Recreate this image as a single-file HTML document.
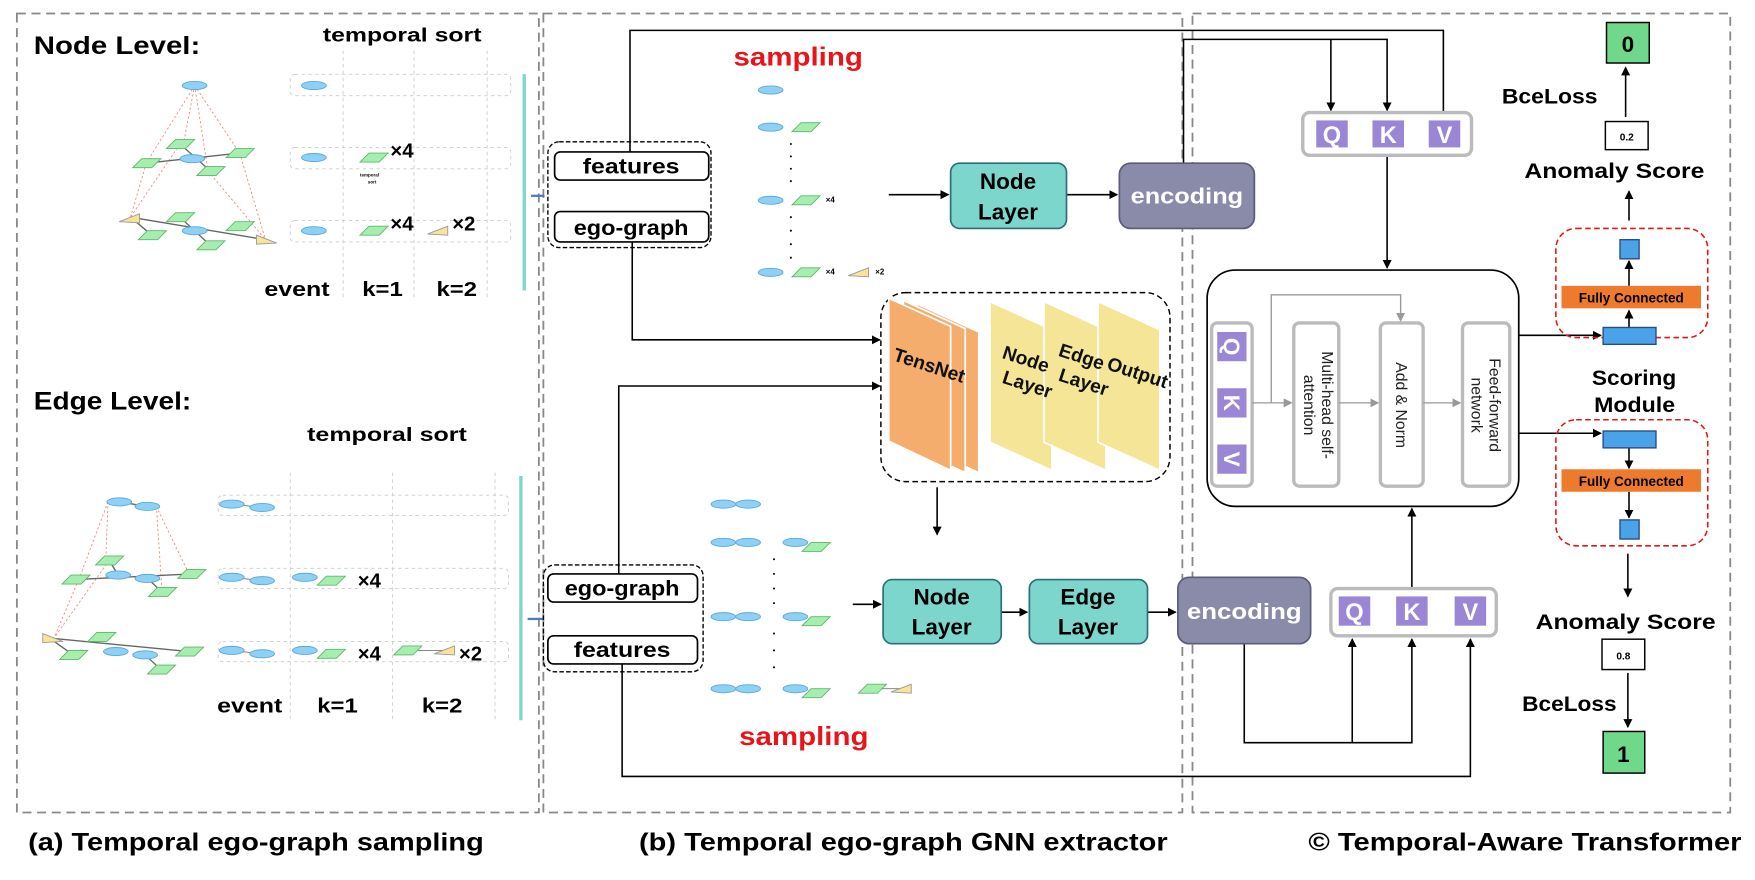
<!DOCTYPE html>
<html><head><meta charset="utf-8"><style>
html,body{margin:0;padding:0;background:#fff;}
svg{display:block;}
text{font-family:"Liberation Sans",sans-serif;font-weight:bold;}
</style></head><body>
<svg width="1755" height="880" viewBox="0 0 1560 782" preserveAspectRatio="none" xmlns="http://www.w3.org/2000/svg">
<defs>
<marker id="ar" markerWidth="8" markerHeight="8" refX="7" refY="4" orient="auto" markerUnits="userSpaceOnUse"><path d="M0,0 L8,4 L0,8 z" fill="#000"/></marker>
<marker id="arg" markerWidth="8" markerHeight="8" refX="7" refY="4" orient="auto" markerUnits="userSpaceOnUse"><path d="M0,0 L8,4 L0,8 z" fill="#999"/></marker>
<symbol id="el" overflow="visible"><ellipse cx="0" cy="0" rx="11" ry="3.6" fill="#8fd0f5" stroke="#5aa9dd" stroke-width="0.8"/></symbol>
<symbol id="dm" overflow="visible"><polygon points="-12,4 -4,-4 13,-4 5,4" fill="#a6eeb0" stroke="#5cb86a" stroke-width="0.8"/></symbol>
<symbol id="tr" overflow="visible"><polygon points="-10,3 8,-4 8,4" fill="#f7e39a" stroke="#999" stroke-width="0.8"/></symbol>
</defs>

<g fill="none" stroke="#888" stroke-width="1.6" stroke-dasharray="8,5">
<rect x="15" y="12" width="464" height="710"/>
<rect x="483" y="12" width="568" height="710"/>
<rect x="1060" y="12" width="478" height="710"/>
</g>

<text x="25" y="756" font-size="22" textLength="405" lengthAdjust="spacingAndGlyphs">(a) Temporal ego-graph sampling</text>
<text x="568" y="756" font-size="22" textLength="470" lengthAdjust="spacingAndGlyphs">(b) Temporal ego-graph GNN extractor</text>
<text x="1163" y="756" font-size="22" textLength="385" lengthAdjust="spacingAndGlyphs">© Temporal-Aware Transformer</text>

<!-- Panel a: Node level -->
<text x="30" y="48" font-size="22" textLength="148" lengthAdjust="spacingAndGlyphs">Node Level:</text>
<text x="287" y="37" font-size="17" textLength="141" lengthAdjust="spacingAndGlyphs">temporal sort</text>
<g fill="none" stroke="#ccc" stroke-width="0.8" stroke-dasharray="3,3">
<rect x="258" y="66" width="196" height="19" rx="4"/>
<rect x="258" y="131" width="196" height="19" rx="4"/>
<rect x="258" y="196" width="196" height="19" rx="4"/>
<line x1="305" y1="45" x2="305" y2="265"/>
<line x1="368" y1="45" x2="368" y2="265"/>
<line x1="433" y1="45" x2="433" y2="265"/>
</g>
<line x1="466" y1="66" x2="466" y2="258" stroke="#7fd6cf" stroke-width="3"/>
<line x1="472" y1="174" x2="484" y2="174" stroke="#4a7bc8" stroke-width="2"/>
<text x="235" y="263" font-size="18" textLength="58" lengthAdjust="spacingAndGlyphs">event</text>
<text x="322" y="263" font-size="18" textLength="36" lengthAdjust="spacingAndGlyphs">k=1</text>
<text x="388" y="263" font-size="18" textLength="36" lengthAdjust="spacingAndGlyphs">k=2</text>
<use href="#el" x="279" y="76"/><use href="#el" x="279" y="140"/><use href="#el" x="279" y="205"/>
<use href="#dm" x="332" y="140"/><use href="#dm" x="332" y="205"/><use href="#tr" x="390" y="205"/>
<text x="347" y="140" font-size="18">×4</text>
<text x="347" y="205" font-size="18">×4</text>
<text x="402" y="205" font-size="18">×2</text>
<text x="320" y="157" font-size="4">temporal</text>
<text x="327" y="163" font-size="4">sort</text>
<g stroke="#f08a80" stroke-width="0.8" stroke-dasharray="2,2" fill="none">
<line x1="173" y1="76" x2="130" y2="145"/><line x1="173" y1="76" x2="163" y2="128"/>
<line x1="173" y1="76" x2="185" y2="152"/><line x1="173" y1="76" x2="213" y2="136"/>
<line x1="130" y1="145" x2="116" y2="193"/><line x1="160" y1="128" x2="116" y2="193"/>
<line x1="185" y1="152" x2="236" y2="213"/><line x1="213" y1="136" x2="236" y2="213"/>
</g>
<g stroke="#666" stroke-width="1.2">
<line x1="130" y1="145" x2="213" y2="136"/><line x1="160" y1="128" x2="187" y2="152"/>
<line x1="116" y1="193" x2="236" y2="213"/><line x1="116" y1="193" x2="135" y2="209"/>
<line x1="160" y1="193" x2="187" y2="218"/>
</g>
<use href="#el" x="173" y="76"/>
<use href="#dm" x="160" y="128"/><use href="#dm" x="130" y="145"/><use href="#el" x="171" y="141"/><use href="#dm" x="187" y="152"/><use href="#dm" x="213" y="136"/>
<use href="#tr" x="116" y="194"/><use href="#dm" x="160" y="193"/><use href="#dm" x="135" y="209"/><use href="#el" x="173" y="205"/><use href="#dm" x="213" y="201"/><use href="#dm" x="187" y="218"/>
<g transform="translate(236,213) scale(-1,1)"><use href="#tr"/></g>

<!-- Panel a: Edge level -->
<text x="30" y="364" font-size="22" textLength="140" lengthAdjust="spacingAndGlyphs">Edge Level:</text>
<text x="273" y="392" font-size="17" textLength="142" lengthAdjust="spacingAndGlyphs">temporal sort</text>
<g fill="none" stroke="#ccc" stroke-width="0.8" stroke-dasharray="3,3">
<rect x="194" y="440" width="258" height="18" rx="4"/>
<rect x="194" y="505" width="258" height="18" rx="4"/>
<rect x="194" y="570" width="258" height="18" rx="4"/>
<line x1="258" y1="420" x2="258" y2="640"/>
<line x1="349" y1="420" x2="349" y2="640"/>
<line x1="440" y1="420" x2="440" y2="640"/>
</g>
<line x1="463" y1="423" x2="463" y2="640" stroke="#7fd6cf" stroke-width="3"/>
<line x1="469" y1="550" x2="483" y2="550" stroke="#4a7bc8" stroke-width="2"/>
<text x="193" y="633" font-size="18" textLength="58" lengthAdjust="spacingAndGlyphs">event</text>
<text x="282" y="633" font-size="18" textLength="36" lengthAdjust="spacingAndGlyphs">k=1</text>
<text x="375" y="633" font-size="18" textLength="36" lengthAdjust="spacingAndGlyphs">k=2</text>
<g stroke="#777" stroke-width="0.8"><line x1="206" y1="448" x2="233" y2="451"/><line x1="206" y1="513" x2="233" y2="516"/><line x1="206" y1="578" x2="233" y2="581"/><line x1="362" y1="578" x2="394" y2="578"/></g>
<use href="#el" x="206" y="448"/><use href="#el" x="233" y="451"/>
<use href="#el" x="206" y="513"/><use href="#el" x="233" y="516"/>
<use href="#el" x="206" y="578"/><use href="#el" x="233" y="581"/>
<use href="#el" x="271" y="513"/><use href="#dm" x="294" y="516"/>
<use href="#el" x="271" y="578"/><use href="#dm" x="294" y="581"/>
<use href="#dm" x="362" y="578"/><use href="#tr" x="396" y="578"/>
<text x="318" y="522" font-size="18">×4</text>
<text x="318" y="587" font-size="18">×4</text>
<text x="408" y="587" font-size="18">×2</text>
<g stroke="#f08a80" stroke-width="0.8" stroke-dasharray="2,2" fill="none">
<line x1="96" y1="446" x2="70" y2="515"/><line x1="96" y1="446" x2="94" y2="498"/>
<line x1="139" y1="450" x2="144" y2="526"/><line x1="139" y1="450" x2="168" y2="510"/>
<line x1="70" y1="515" x2="48" y2="567"/><line x1="97" y1="498" x2="48" y2="567"/>
</g>
<g stroke="#666" stroke-width="1.2">
<line x1="106" y1="446" x2="131" y2="450"/><line x1="67" y1="515" x2="170" y2="510"/><line x1="131" y1="514" x2="144" y2="526"/>
<line x1="44" y1="567" x2="168" y2="579"/><line x1="44" y1="567" x2="65" y2="582"/><line x1="129" y1="582" x2="143" y2="595"/><line x1="97" y1="498" x2="105" y2="511"/>
</g>
<use href="#el" x="106" y="446"/><use href="#el" x="131" y="450"/>
<use href="#dm" x="97" y="498"/><use href="#dm" x="67" y="515"/><use href="#el" x="105" y="511"/><use href="#el" x="131" y="514"/><use href="#dm" x="144" y="526"/><use href="#dm" x="170" y="510"/>
<g transform="translate(46,567) scale(-1,1)"><use href="#tr"/></g>
<use href="#dm" x="90" y="566"/><use href="#dm" x="65" y="582"/><use href="#el" x="103" y="579"/><use href="#el" x="129" y="582"/><use href="#dm" x="143" y="595"/><use href="#dm" x="168" y="579"/>

<!-- Panel b -->
<g fill="none" stroke="#000" stroke-width="1.4">
<polyline points="560,135 560,27 1283,27 1283,106" marker-end="url(#ar)"/>
<polyline points="1052,145 1052,35 1233,35 1233,98" marker-end="url(#ar)"/>
<line x1="1183" y1="35" x2="1183" y2="98" marker-end="url(#ar)"/>
<polyline points="562,215 562,302 782,302" marker-end="url(#ar)"/>
<polyline points="550,510 550,343 782,343" marker-end="url(#ar)"/>
<polyline points="553,590 553,690 1307,690 1307,568" marker-end="url(#ar)"/>
<polyline points="1106,572 1106,660 1255,660 1255,568" marker-end="url(#ar)"/>
<line x1="1202" y1="660" x2="1202" y2="568" marker-end="url(#ar)"/>
<line x1="790" y1="173" x2="843" y2="173" marker-end="url(#ar)"/>
<line x1="948" y1="173" x2="993" y2="173" marker-end="url(#ar)"/>
<line x1="833" y1="433" x2="833" y2="475" marker-end="url(#ar)"/>
<line x1="758" y1="537" x2="783" y2="537" marker-end="url(#ar)"/>
<line x1="890" y1="544" x2="913" y2="544" marker-end="url(#ar)"/>
<line x1="1020" y1="544" x2="1045" y2="544" marker-end="url(#ar)"/>
<line x1="1233" y1="138" x2="1233" y2="238" marker-end="url(#ar)"/>
<line x1="1255" y1="523" x2="1255" y2="452" marker-end="url(#ar)"/>
</g>
<rect x="487" y="126" width="145" height="94" rx="10" fill="none" stroke="#000" stroke-width="1.2" stroke-dasharray="4,2"/>
<rect x="493" y="135" width="137" height="25" rx="5" fill="#fff" stroke="#000" stroke-width="1.5"/>
<rect x="493" y="188" width="137" height="27" rx="5" fill="#fff" stroke="#000" stroke-width="1.5"/>
<text x="518" y="154" font-size="19" textLength="86" lengthAdjust="spacingAndGlyphs">features</text>
<text x="510" y="209" font-size="19" textLength="102" lengthAdjust="spacingAndGlyphs">ego-graph</text>
<rect x="483" y="502" width="142" height="95" rx="10" fill="none" stroke="#000" stroke-width="1.2" stroke-dasharray="4,2"/>
<rect x="487" y="510" width="133" height="25" rx="5" fill="#fff" stroke="#000" stroke-width="1.5"/>
<rect x="487" y="565" width="133" height="25" rx="5" fill="#fff" stroke="#000" stroke-width="1.5"/>
<text x="502" y="529" font-size="19" textLength="102" lengthAdjust="spacingAndGlyphs">ego-graph</text>
<text x="510" y="584" font-size="19" textLength="86" lengthAdjust="spacingAndGlyphs">features</text>

<text x="652" y="58" font-size="23" fill="#e8141a" textLength="115" lengthAdjust="spacingAndGlyphs">sampling</text>
<text x="657" y="662" font-size="23" fill="#e8141a" textLength="115" lengthAdjust="spacingAndGlyphs">sampling</text>
<use href="#el" x="685" y="80"/><use href="#el" x="685" y="113"/><use href="#el" x="685" y="178"/><use href="#el" x="685" y="242"/>
<use href="#dm" x="716" y="113"/><use href="#dm" x="716" y="178"/><use href="#dm" x="716" y="242"/><use href="#tr" x="764" y="242"/>
<text x="734" y="180" font-size="7">×4</text><text x="734" y="244" font-size="7">×4</text><text x="778" y="244" font-size="7">×2</text>
<g fill="#000"><circle cx="703" cy="128" r="0.9"/><circle cx="703" cy="139" r="0.9"/><circle cx="703" cy="150" r="0.9"/><circle cx="703" cy="161" r="0.9"/><circle cx="703" cy="193" r="0.9"/><circle cx="703" cy="205" r="0.9"/><circle cx="703" cy="217" r="0.9"/><circle cx="703" cy="229" r="0.9"/></g>
<g stroke="#777" stroke-width="0.8"><line x1="643" y1="448" x2="665" y2="448"/><line x1="643" y1="482" x2="665" y2="482"/><line x1="643" y1="548" x2="665" y2="548"/><line x1="643" y1="612" x2="665" y2="612"/><line x1="772" y1="612" x2="800" y2="612"/></g>
<use href="#el" x="643" y="448"/><use href="#el" x="665" y="448"/>
<use href="#el" x="643" y="482"/><use href="#el" x="665" y="482"/><use href="#el" x="707" y="482"/><use href="#dm" x="725" y="486"/>
<use href="#el" x="643" y="548"/><use href="#el" x="665" y="548"/><use href="#el" x="707" y="548"/><use href="#dm" x="725" y="552"/>
<use href="#el" x="643" y="612"/><use href="#el" x="665" y="612"/><use href="#el" x="707" y="612"/><use href="#dm" x="725" y="616"/>
<use href="#dm" x="775" y="612"/><use href="#tr" x="802" y="612"/>
<g fill="#000"><circle cx="688" cy="497" r="0.9"/><circle cx="688" cy="510" r="0.9"/><circle cx="688" cy="523" r="0.9"/><circle cx="688" cy="536" r="0.9"/><circle cx="688" cy="563" r="0.9"/><circle cx="688" cy="578" r="0.9"/><circle cx="688" cy="593" r="0.9"/></g>

<g stroke="#2c6e7a" stroke-width="1.5" fill="#7dd6cc">
<rect x="845" y="145" width="103" height="58" rx="8"/>
<rect x="785" y="515" width="105" height="57" rx="8"/>
<rect x="915" y="515" width="105" height="57" rx="8"/>
</g>
<g font-size="20" text-anchor="middle">
<text x="896" y="168">Node</text><text x="896" y="195">Layer</text>
<text x="837" y="537">Node</text><text x="837" y="564">Layer</text>
<text x="967" y="537">Edge</text><text x="967" y="564">Layer</text>
</g>
<rect x="995" y="145" width="120" height="58" rx="10" fill="#8a8ba8" stroke="#5a5c78" stroke-width="1.5"/>
<rect x="1047" y="513" width="118" height="59" rx="10" fill="#8a8ba8" stroke="#5a5c78" stroke-width="1.5"/>
<text x="1005" y="181" font-size="20" fill="#fff" textLength="100" lengthAdjust="spacingAndGlyphs">encoding</text>
<text x="1055" y="550" font-size="20" fill="#fff" textLength="102" lengthAdjust="spacingAndGlyphs">encoding</text>

<rect x="783" y="260" width="257" height="168" rx="22" fill="none" stroke="#000" stroke-width="1.3" stroke-dasharray="5,3"/>
<g stroke="#fff" stroke-width="1.5">
<polygon points="815,270 870,295 870,420 815,395" fill="#f5ad6e"/>
<polygon points="803,267 858,292 858,420 803,395" fill="#f5ad6e"/>
<polygon points="790,265 845,290 845,418 790,392" fill="#f5ad6e"/>
<polygon points="880,268 935,293 935,418 880,393" fill="#f5e697"/>
<polygon points="928,268 983,293 983,418 928,393" fill="#f5e697"/>
<polygon points="976,268 1031,293 1031,418 976,393" fill="#f5e697"/>
</g>
<g font-size="17" fill="#111">
<text x="793" y="320" transform="rotate(18 793 320)">TensNet</text>
<text x="890" y="318" transform="rotate(18 890 318)">Node</text>
<text x="890" y="340" transform="rotate(18 890 340)">Layer</text>
<text x="940" y="316" transform="rotate(18 940 316)">Edge</text>
<text x="940" y="338" transform="rotate(18 940 338)">Layer</text>
<text x="983" y="328" transform="rotate(18 983 328)">Output</text>
</g>

<!-- Panel c -->
<rect x="1158" y="100" width="150" height="38" rx="6" fill="#fff" stroke="#bbb" stroke-width="3"/>
<rect x="1183" y="523" width="147" height="42" rx="6" fill="#fff" stroke="#bbb" stroke-width="3"/>
<g fill="#9b86d6">
<rect x="1170" y="107" width="28" height="24"/><rect x="1220" y="107" width="28" height="24"/><rect x="1270" y="107" width="28" height="24"/>
<rect x="1190" y="530" width="28" height="26"/><rect x="1241" y="530" width="28" height="26"/><rect x="1293" y="530" width="28" height="26"/>
</g>
<g fill="#fff" font-size="21" text-anchor="middle">
<text x="1184" y="127">Q</text><text x="1234" y="127">K</text><text x="1284" y="127">V</text>
<text x="1204" y="551">Q</text><text x="1255" y="551">K</text><text x="1307" y="551">V</text>
</g>
<rect x="1073" y="240" width="277" height="210" rx="25" fill="#fff" stroke="#000" stroke-width="1.5"/>
<g fill="#fff" stroke="#bbb" stroke-width="3">
<rect x="1077" y="287" width="36" height="145" rx="5"/>
<rect x="1150" y="287" width="40" height="145" rx="5"/>
<rect x="1227" y="287" width="38" height="145" rx="5"/>
<rect x="1300" y="287" width="42" height="145" rx="5"/>
</g>
<g fill="#9b86d6"><rect x="1082" y="295" width="26" height="26"/><rect x="1082" y="345" width="26" height="26"/><rect x="1082" y="395" width="26" height="26"/></g>
<g fill="#fff" font-size="20" text-anchor="middle">
<text transform="translate(1088,308) rotate(90)">Q</text>
<text transform="translate(1088,358) rotate(90)">K</text>
<text transform="translate(1088,408) rotate(90)">V</text>
</g>
<g stroke="#999" stroke-width="1.2" fill="none">
<line x1="1113" y1="358" x2="1148" y2="358" marker-end="url(#arg)"/>
<line x1="1190" y1="358" x2="1225" y2="358" marker-end="url(#arg)"/>
<line x1="1265" y1="358" x2="1298" y2="358" marker-end="url(#arg)"/>
<polyline points="1130,358 1130,262 1245,262 1245,285" marker-end="url(#arg)"/>
</g>
<g font-size="14" fill="#222" text-anchor="middle">
<text transform="translate(1172,360) rotate(90)" style="font-weight:normal"><tspan x="0" dy="-3">Multi-head self-</tspan><tspan x="0" dy="16">attention</tspan></text>
<text transform="translate(1246,360) rotate(90)" style="font-weight:normal" dy="5">Add &amp; Norm</text>
<text transform="translate(1321,360) rotate(90)" style="font-weight:normal"><tspan x="0" dy="-3">Feed-forward</tspan><tspan x="0" dy="16">network</tspan></text>
</g>
<g fill="none" stroke="#000" stroke-width="1.4">
<line x1="1350" y1="298" x2="1423" y2="298" marker-end="url(#ar)"/>
<line x1="1350" y1="385" x2="1423" y2="385" marker-end="url(#ar)"/>
<line x1="1448" y1="291" x2="1448" y2="276" marker-end="url(#ar)"/>
<line x1="1448" y1="254" x2="1448" y2="232" marker-end="url(#ar)"/>
<line x1="1448" y1="398" x2="1448" y2="416" marker-end="url(#ar)"/>
<line x1="1448" y1="437" x2="1448" y2="460" marker-end="url(#ar)"/>
<line x1="1448" y1="196" x2="1448" y2="170" marker-end="url(#ar)"/>
<line x1="1445" y1="104" x2="1445" y2="60" marker-end="url(#ar)"/>
<line x1="1447" y1="492" x2="1447" y2="530" marker-end="url(#ar)"/>
<line x1="1447" y1="598" x2="1447" y2="646" marker-end="url(#ar)"/>
</g>
<rect x="1383" y="203" width="135" height="97" rx="18" fill="none" stroke="#e01818" stroke-width="1.4" stroke-dasharray="5,3"/>
<rect x="1383" y="373" width="135" height="112" rx="18" fill="none" stroke="#e01818" stroke-width="1.4" stroke-dasharray="5,3"/>
<g fill="#ee7a2e"><rect x="1388" y="254" width="124" height="20"/><rect x="1388" y="417" width="124" height="20"/></g>
<g font-size="12" text-anchor="middle"><text x="1450" y="269">Fully Connected</text><text x="1450" y="432">Fully Connected</text></g>
<g fill="#4aa3e8" stroke="#2a4a80" stroke-width="1.2">
<rect x="1440" y="213" width="17" height="17"/><rect x="1425" y="291" width="47" height="15"/>
<rect x="1425" y="383" width="47" height="15"/><rect x="1440" y="462" width="17" height="17"/>
</g>
<g font-size="19">
<text x="1415" y="342" textLength="75" lengthAdjust="spacingAndGlyphs">Scoring</text>
<text x="1417" y="366" textLength="72" lengthAdjust="spacingAndGlyphs">Module</text>
<text x="1355" y="158" textLength="160" lengthAdjust="spacingAndGlyphs">Anomaly Score</text>
<text x="1365" y="559" textLength="160" lengthAdjust="spacingAndGlyphs">Anomaly Score</text>
<text x="1335" y="92" textLength="85" lengthAdjust="spacingAndGlyphs">BceLoss</text>
<text x="1353" y="632" textLength="84" lengthAdjust="spacingAndGlyphs">BceLoss</text>
</g>
<rect x="1427" y="108" width="38" height="25" fill="#fff" stroke="#000" stroke-width="1.3"/>
<rect x="1424" y="568" width="38" height="27" fill="#fff" stroke="#000" stroke-width="1.3"/>
<text x="1446" y="125" font-size="9" text-anchor="middle">0.2</text>
<text x="1443" y="586" font-size="9" text-anchor="middle">0.8</text>
<rect x="1428" y="20" width="38" height="36" fill="#6fd88a" stroke="#000" stroke-width="1.3"/>
<rect x="1425" y="650" width="37" height="37" fill="#6fd88a" stroke="#000" stroke-width="1.3"/>
<text x="1447" y="46" font-size="20" text-anchor="middle">0</text>
<text x="1443" y="677" font-size="20" text-anchor="middle">1</text>
</svg>
</body></html>
